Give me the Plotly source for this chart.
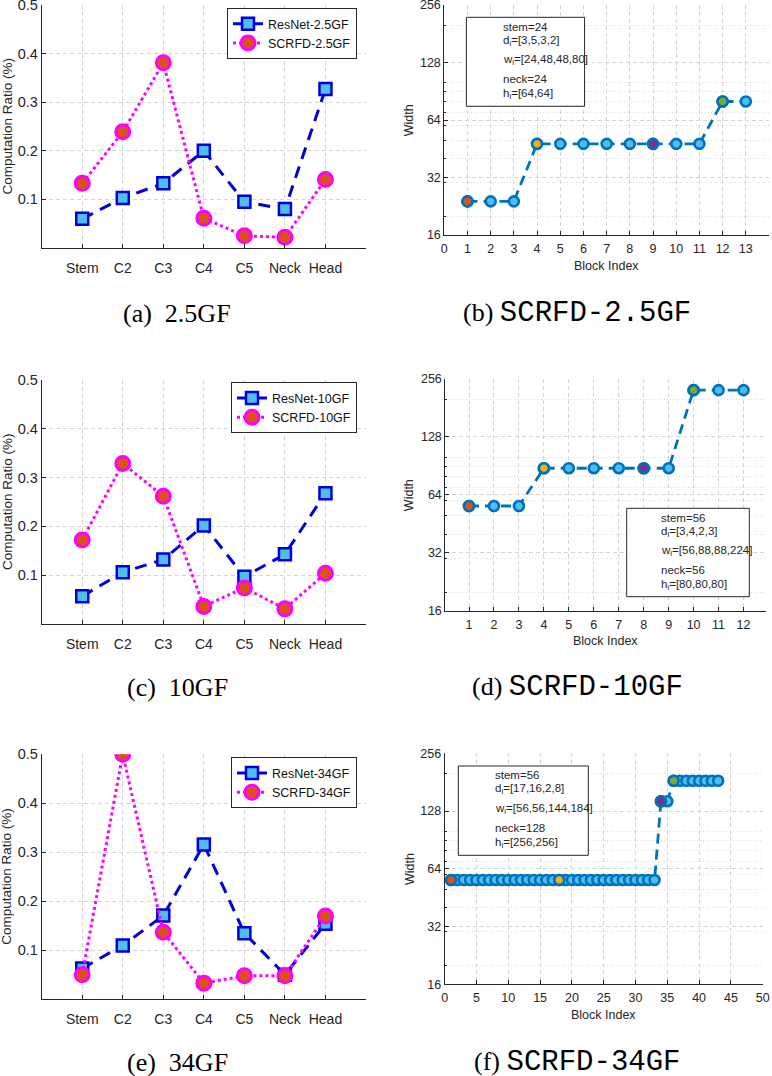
import plotly.graph_objects as go

# ---------------- data ----------------
stages = ["Stem", "C2", "C3", "C4", "C5", "Neck", "Head"]

resnet_25 = [0.060, 0.103, 0.133, 0.200, 0.095, 0.080, 0.327]
scrfd_25 = [0.133, 0.239, 0.381, 0.061, 0.025, 0.022, 0.141]

resnet_10 = [0.057, 0.106, 0.132, 0.202, 0.097, 0.143, 0.268]
scrfd_10 = [0.172, 0.329, 0.262, 0.036, 0.074, 0.031, 0.104]

resnet_34 = [0.063, 0.110, 0.171, 0.316, 0.135, 0.050, 0.154]
scrfd_34 = [0.050, 0.500, 0.137, 0.033, 0.048, 0.048, 0.170]

# block widths (one value per block)
width_25 = [24, 24, 24, 48, 48, 48, 48, 48, 48, 48, 48, 80, 80]
width_10 = [56, 56, 56, 88, 88, 88, 88, 88, 88, 224, 224, 224]
width_34 = [56] * 17 + [56] * 16 + [144] * 2 + [184] * 8
# first block of each stage (highlighted markers)
start_25 = [1, 4, 9, 12]
start_10 = [1, 4, 8, 10]
start_34 = [1, 18, 34, 36]

box_25 = ["stem=24", "d<sub>i</sub>=[3,5,3,2]", "w<sub>i</sub>=[24,48,48,80]",
          "neck=24", "h<sub>i</sub>=[64,64]"]
box_10 = ["stem=56", "d<sub>i</sub>=[3,4,2,3]", "w<sub>i</sub>=[56,88,88,224]",
          "neck=56", "h<sub>i</sub>=[80,80,80]"]
box_34 = ["stem=56", "d<sub>i</sub>=[17,16,2,8]", "w<sub>i</sub>=[56,56,144,184]",
          "neck=128", "h<sub>i</sub>=[256,256]"]

width_ticks = [16, 32, 64, 128, 256]
width_minor = [20, 30, 40, 50, 60, 70, 80, 90, 100, 200]
ratio_ticks = [0.1, 0.2, 0.3, 0.4, 0.5]

# ---------------- style ----------------
W, H = 772, 1076
SANS = "Liberation Sans, Arial, sans-serif"
SERIF = "Liberation Serif, Times New Roman, serif"
MONO = "Liberation Mono"
TXT = "#262626"
AX = "#262626"
GRID = "#d4d4d4"
RES_EDGE = "#0000DD"
RES_FILL = "#4DBEEE"
SC_EDGE = "#FF00FF"
SC_FILL = "#D95319"
WLINE = "#0072BD"
WFILL = "#4DBEEE"
STAGE_COLORS = ["#D95319", "#EDB120", "#7E2F8E", "#77AC30"]

# panel pixel boxes (left, right, top, bottom)
P = {
    1: (41.7, 366.0, 5.0, 248.0),
    2: (444.3, 769.0, 5.0, 235.0),
    3: (41.7, 366.0, 380.0, 624.0),
    4: (445.3, 766.0, 379.0, 610.7),
    5: (41.7, 366.0, 754.3, 999.3),
    6: (444.7, 762.7, 753.3, 984.3),
}


def xd(n):
    l, r, t, b = P[n]
    return [l / W, r / W]


def yd(n):
    l, r, t, b = P[n]
    return [1 - b / H, 1 - t / H]


def ax(n):
    return "" if n == 1 else str(n)


fig = go.Figure()
annotations = []
shapes = []

# ---------------- left panels ----------------
left = [
    (1, resnet_25, scrfd_25, "2.5GF", "legend", 8.0),
    (3, resnet_10, scrfd_10, "10GF", "legend2", 382.3),
    (5, resnet_34, scrfd_34, "34GF", "legend3", 757.3),
]
for n, rv, sv, tag, lg, ltop in left:
    fig.add_trace(go.Scatter(
        x=stages, y=rv, mode="lines+markers", name="ResNet-" + tag,
        line=dict(color=RES_EDGE, width=3, dash="12px,8px"),
        marker=dict(symbol="square", size=12, color=RES_FILL,
                    line=dict(color=RES_EDGE, width=2.5)),
        xaxis="x" + ax(n), yaxis="y" + ax(n), legend=lg))
    fig.add_trace(go.Scatter(
        x=stages, y=sv, mode="lines+markers", name="SCRFD-" + tag,
        line=dict(color=SC_EDGE, width=3, dash="dot"),
        marker=dict(symbol="circle", size=14, color=SC_FILL,
                    line=dict(color=SC_EDGE, width=3)),
        xaxis="x" + ax(n), yaxis="y" + ax(n), legend=lg))
    fig.update_layout(**{
        "xaxis" + ax(n): dict(
            domain=xd(n), anchor="y" + ax(n), type="category", range=[-1, 7],
            automargin=False, ticklabeloverflow="allow",
            showgrid=True, gridcolor=GRID, griddash="4px,3px", gridwidth=1,
            showline=True, linecolor=AX, linewidth=1, ticks="inside",
            ticklen=4, tickcolor=AX, ticklabelstandoff=7,
            tickfont=dict(family=SANS, size=14, color=TXT), zeroline=False),
        "yaxis" + ax(n): dict(
            domain=yd(n), anchor="x" + ax(n), range=[0, 0.5],
            automargin=False, ticklabeloverflow="allow",
            tickmode="array", tickvals=ratio_ticks,
            ticktext=[f"{v:.1f}" for v in ratio_ticks],
            showgrid=True, gridcolor=GRID, griddash="4px,3px", gridwidth=1,
            showline=True, linecolor=AX, linewidth=1, ticks="inside",
            ticklen=4, tickcolor=AX,
            tickfont=dict(family=SANS, size=14.5, color=TXT), zeroline=False),
        lg: dict(x=357 / W, y=1 - ltop / H, xanchor="right", yanchor="top",
                 bgcolor="white", bordercolor=AX, borderwidth=1,
                 font=dict(family=SANS, size=12.5, color="#111"),
                 tracegroupgap=0, itemwidth=30),
    })
    l, r, t, b = P[n]
    annotations.append(dict(
        text="Computation Ratio (%)", xref="paper", yref="paper",
        x=7 / W, y=1 - (t + b) / 2 / H, textangle=-90, showarrow=False,
        xanchor="center", yanchor="middle",
        font=dict(family=SANS, size=13.5, color=TXT)))

# ---------------- right panels ----------------
right = [
    (2, width_25, start_25, box_25, [0, 14], list(range(0, 14)),
     (0.068, 0.432, 0.9465, 0.5596, 0.1737)),
    (4, width_10, start_10, box_10, [0.05, 12.9], list(range(1, 13)),
     (0.5656, 0.948, 0.442, 0.0604, 0.667)),
    (6, width_34, start_34, box_34, [0, 50], list(range(0, 51, 5)),
     (0.0428, 0.4516, 0.945, 0.5584, 0.151)),
]
line_frac = [0.106, 0.263, 0.48, 0.697, 0.862]
for n, wv, st, lines, xr, xt, bx in right:
    idx = list(range(1, len(wv) + 1))
    fig.add_trace(go.Scatter(
        x=idx, y=wv, mode="lines+markers", showlegend=False,
        line=dict(color=WLINE, width=2.8, dash="10px,6px"),
        marker=dict(symbol="circle", size=10, color=WFILL,
                    line=dict(color=WLINE, width=2.6)),
        xaxis="x" + ax(n), yaxis="y" + ax(n)))
    fig.add_trace(go.Scatter(
        x=st, y=[wv[i - 1] for i in st], mode="markers", showlegend=False,
        marker=dict(symbol="circle", size=10, color=STAGE_COLORS,
                    line=dict(color=WLINE, width=2.6)),
        xaxis="x" + ax(n), yaxis="y" + ax(n)))
    fig.update_layout(**{
        "xaxis" + ax(n): dict(
            domain=xd(n), anchor="y" + ax(n), range=xr, automargin=False,
            tickmode="array", tickvals=xt, ticklabeloverflow="allow",
            showgrid=True, gridcolor=GRID, griddash="4px,3px", gridwidth=1,
            showline=True, linecolor=AX, linewidth=1, ticks="inside",
            ticklen=4, tickcolor=AX, ticklabelstandoff=2,
            tickfont=dict(family=SANS, size=12.5, color=TXT), zeroline=False),
        "yaxis" + ax(n): dict(
            domain=yd(n), anchor="x" + ax(n), type="log", automargin=False,
            ticklabeloverflow="allow",
            range=[1.2041199827, 2.4082399653],
            tickmode="array", tickvals=width_ticks,
            ticktext=[str(v) for v in width_ticks],
            showgrid=True, gridcolor=GRID, griddash="4px,3px", gridwidth=1,
            minor=dict(tickmode="array", tickvals=width_minor, showgrid=True,
                       gridcolor="#dadada", griddash="1px,2px", ticks="inside",
                       ticklen=2, tickcolor=AX),
            showline=True, linecolor=AX, linewidth=1, ticks="inside",
            ticklen=4, tickcolor=AX,
            tickfont=dict(family=SANS, size=12.5, color=TXT), zeroline=False),
    })
    l, r, t, b = P[n]
    annotations.append(dict(
        text="Width", xref="paper", yref="paper",
        x=409.3 / W, y=1 - (t + b) / 2 / H, textangle=-90, showarrow=False,
        xanchor="center", yanchor="middle",
        font=dict(family=SANS, size=12.5, color=TXT)))
    annotations.append(dict(
        text="Block Index", xref="paper", yref="paper",
        x=(l + r) / 2 / W, y=1 - (b + 30.5) / H, showarrow=False,
        xanchor="center", yanchor="middle",
        font=dict(family=SANS, size=12.5, color=TXT)))
    x0, x1, y1, y0, tx = bx
    shapes.append(dict(type="rect", xref="x" + ax(n) + " domain",
                       yref="y" + ax(n) + " domain", x0=x0, x1=x1, y0=y0, y1=y1,
                       line=dict(color=AX, width=1), fillcolor="white",
                       layer="above"))
    for txt, f in zip(lines, line_frac):
        annotations.append(dict(
            text=txt, xref="x" + ax(n) + " domain", yref="y" + ax(n) + " domain",
            x=tx, y=y1 - f * (y1 - y0), showarrow=False, xanchor="left",
            yanchor="middle", font=dict(family=SANS, size=11.5, color=TXT)))

# ---------------- captions ----------------
captions = [
    ("(a)\u00a0 2.5GF", "(b) ", "SCRFD-2.5GF", 313),
    ("(c)\u00a0 10GF", "(d) ", "SCRFD-10GF", 687),
    ("(e)\u00a0 34GF", "(f) ", "SCRFD-34GF", 1062),
]
for lt, rt, mono, yc in captions:
    annotations.append(dict(
        text=lt, xref="paper", yref="paper", x=177 / W, y=1 - yc / H,
        showarrow=False, xanchor="center", yanchor="middle",
        font=dict(family=SERIF, size=26, color="#000")))
    annotations.append(dict(
        text=rt + "<span style='font-family:" + MONO + ";font-size:29px'>"
        + mono + "</span>",
        xref="paper", yref="paper", x=577 / W, y=1 - yc / H,
        showarrow=False, xanchor="center", yanchor="middle",
        font=dict(family=SERIF, size=26, color="#000")))

fig.update_layout(
    width=W, height=H, margin=dict(l=0, r=0, t=0, b=0),
    paper_bgcolor="white", plot_bgcolor="white",
    annotations=annotations, shapes=shapes,
)

fig.write_html("out.html", config={"displayModeBar": False},
               post_script="document.body.style.margin='0px';"
                           "document.body.style.overflow='hidden';")
